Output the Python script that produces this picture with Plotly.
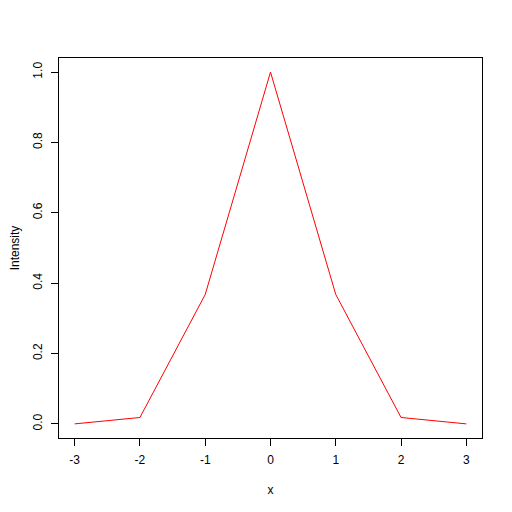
import plotly.graph_objects as go

x_vals = [-3, -2, -1, 0, 1, 2, 3]
intensity = [0.0001, 0.0183, 0.3679, 1.0, 0.3679, 0.0183, 0.0001]
x_ticks = [-3, -2, -1, 0, 1, 2, 3]
x_tick_text = ["-3", "-2", "-1", "0", "1", "2", "3"]
y_ticks = [0.0, 0.2, 0.4, 0.6, 0.8, 1.0]
y_tick_text = ["0.0", "0.2", "0.4", "0.6", "0.8", "1.0"]

fig = go.Figure()
fig.add_trace(go.Scatter(x=x_vals, y=intensity, mode="lines",
                         line=dict(color="#FF0000", width=1)))

font = dict(family="Liberation Sans, Arial, sans-serif", size=12, color="black")
fig.update_layout(
    width=504, height=504,
    margin=dict(l=51, r=30, t=50, b=74, autoexpand=False),
    paper_bgcolor="white", plot_bgcolor="white",
    showlegend=False, font=font,
    xaxis=dict(range=[-3.24, 3.24], tickvals=x_ticks, ticktext=x_tick_text,
               ticks="outside", ticklen=7, automargin=False, ticklabelstandoff=4,
               tickcolor="black", showline=True, mirror=True, linecolor="black",
               linewidth=1, showgrid=False, zeroline=False,
               title=dict(text="x", standoff=19, font=font)),
    yaxis=dict(range=[-0.04, 1.04], tickvals=y_ticks, ticktext=y_tick_text,
               ticks="outside", ticklen=7, tickangle=-90, automargin=False,
               ticklabelstandoff=4,
               tickcolor="black", showline=True, mirror=True, linecolor="black",
               linewidth=1, showgrid=False, zeroline=False,
               title=dict(text="Intensity", standoff=22, font=font)),
)
fig.write_html("out.html")
